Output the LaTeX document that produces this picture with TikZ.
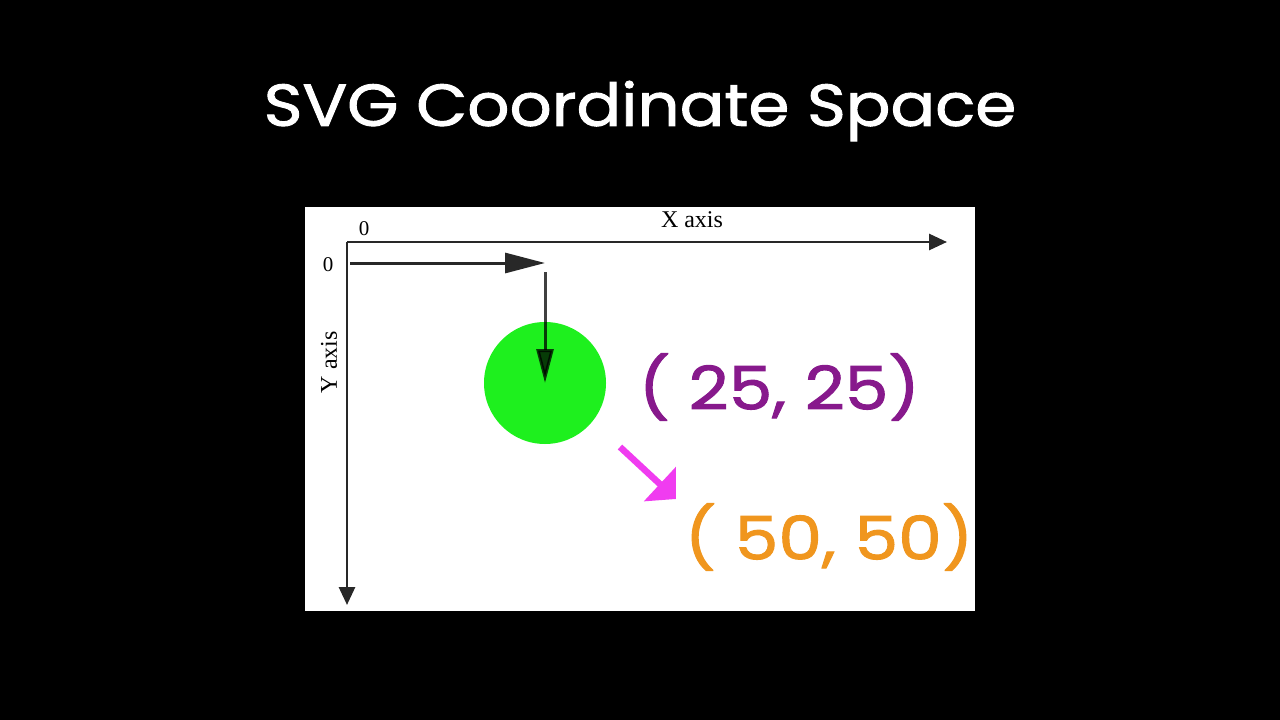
\documentclass[tikz,border=0pt]{standalone}
\usepackage{fontspec}
\setmainfont{Liberation Serif}
\newfontfamily\titlefont{Poppins}[FakeBold=1.6, FakeStretch=1.12]
\newfontfamily\labelfont{Poppins}[FakeBold=1.6, FakeStretch=1.16]
\usetikzlibrary{calc, arrows.meta}
\definecolor{limegreen}{RGB}{30,240,30}
\definecolor{purplelabel}{RGB}{135,25,140}
\definecolor{orangelabel}{RGB}{240,150,30}
\definecolor{pinkarrow}{RGB}{240,60,240}
\definecolor{axisgray}{RGB}{40,40,40}

\begin{document}
\begin{tikzpicture}[x=1pt, y=-1pt,
    axis/.style={draw=axisgray, line width=2.8pt, -{Triangle[length=18pt, width=16pt]}},
    big/.style={font=\labelfont\fontsize{60}{64}\selectfont}]
            \fill[black] (0,0) rectangle (1280,720);
            \fill[white] (305,207) rectangle (975,611);

            \node[font=\titlefont\fontsize{59}{64}\selectfont, text=white] (title) at (640,111) {SVG Coordinate Space};

            \coordinate (O) at (347,242);
            \coordinate (X) at (947,242);
            \coordinate (Y) at (347,605);
            \draw[axis] (O) -- (X);
            \draw[axis] (O) -- (Y);
            \node[font=\fontsize{24}{26}\selectfont] (xlab) at (692,220) {X axis};
            \node[font=\fontsize{24}{26}\selectfont, rotate=90] (ylab) at (329,362) {Y axis};
            \node[font=\fontsize{21}{22}\selectfont] (xzero) at (364,229) {0};
            \node[font=\fontsize{21}{22}\selectfont] (yzero) at (328,265) {0};

            \node[circle, fill=limegreen, minimum size=122pt, inner sep=0pt] (dot) at (545,383) {};
            \coordinate (xs) at (350,263);
            \coordinate (xt) at (545,263);
            \coordinate (ys) at (545,272);
            \draw[axisgray, line width=3pt, -{Triangle[length=40pt, width=20pt]}] (xs) -- (xt);
            \draw[black, opacity=0.75, line width=3pt, -{Triangle[length=34pt, width=17pt]}] (ys) -- (dot.center);

            \node[big, text=purplelabel, anchor=west] (p25) at (635,387) {( 25, 25)};
            \coordinate (ms) at (620,447);
            \coordinate (mt) at (676,499);
            \draw[pinkarrow, line width=6.5pt, -{Triangle[length=22pt, width=46pt]}] (ms) -- (mt);
            \node[big, text=orangelabel, anchor=west] (p50) at (681,537) {( 50, 50)};
        \end{tikzpicture}
\end{document}
